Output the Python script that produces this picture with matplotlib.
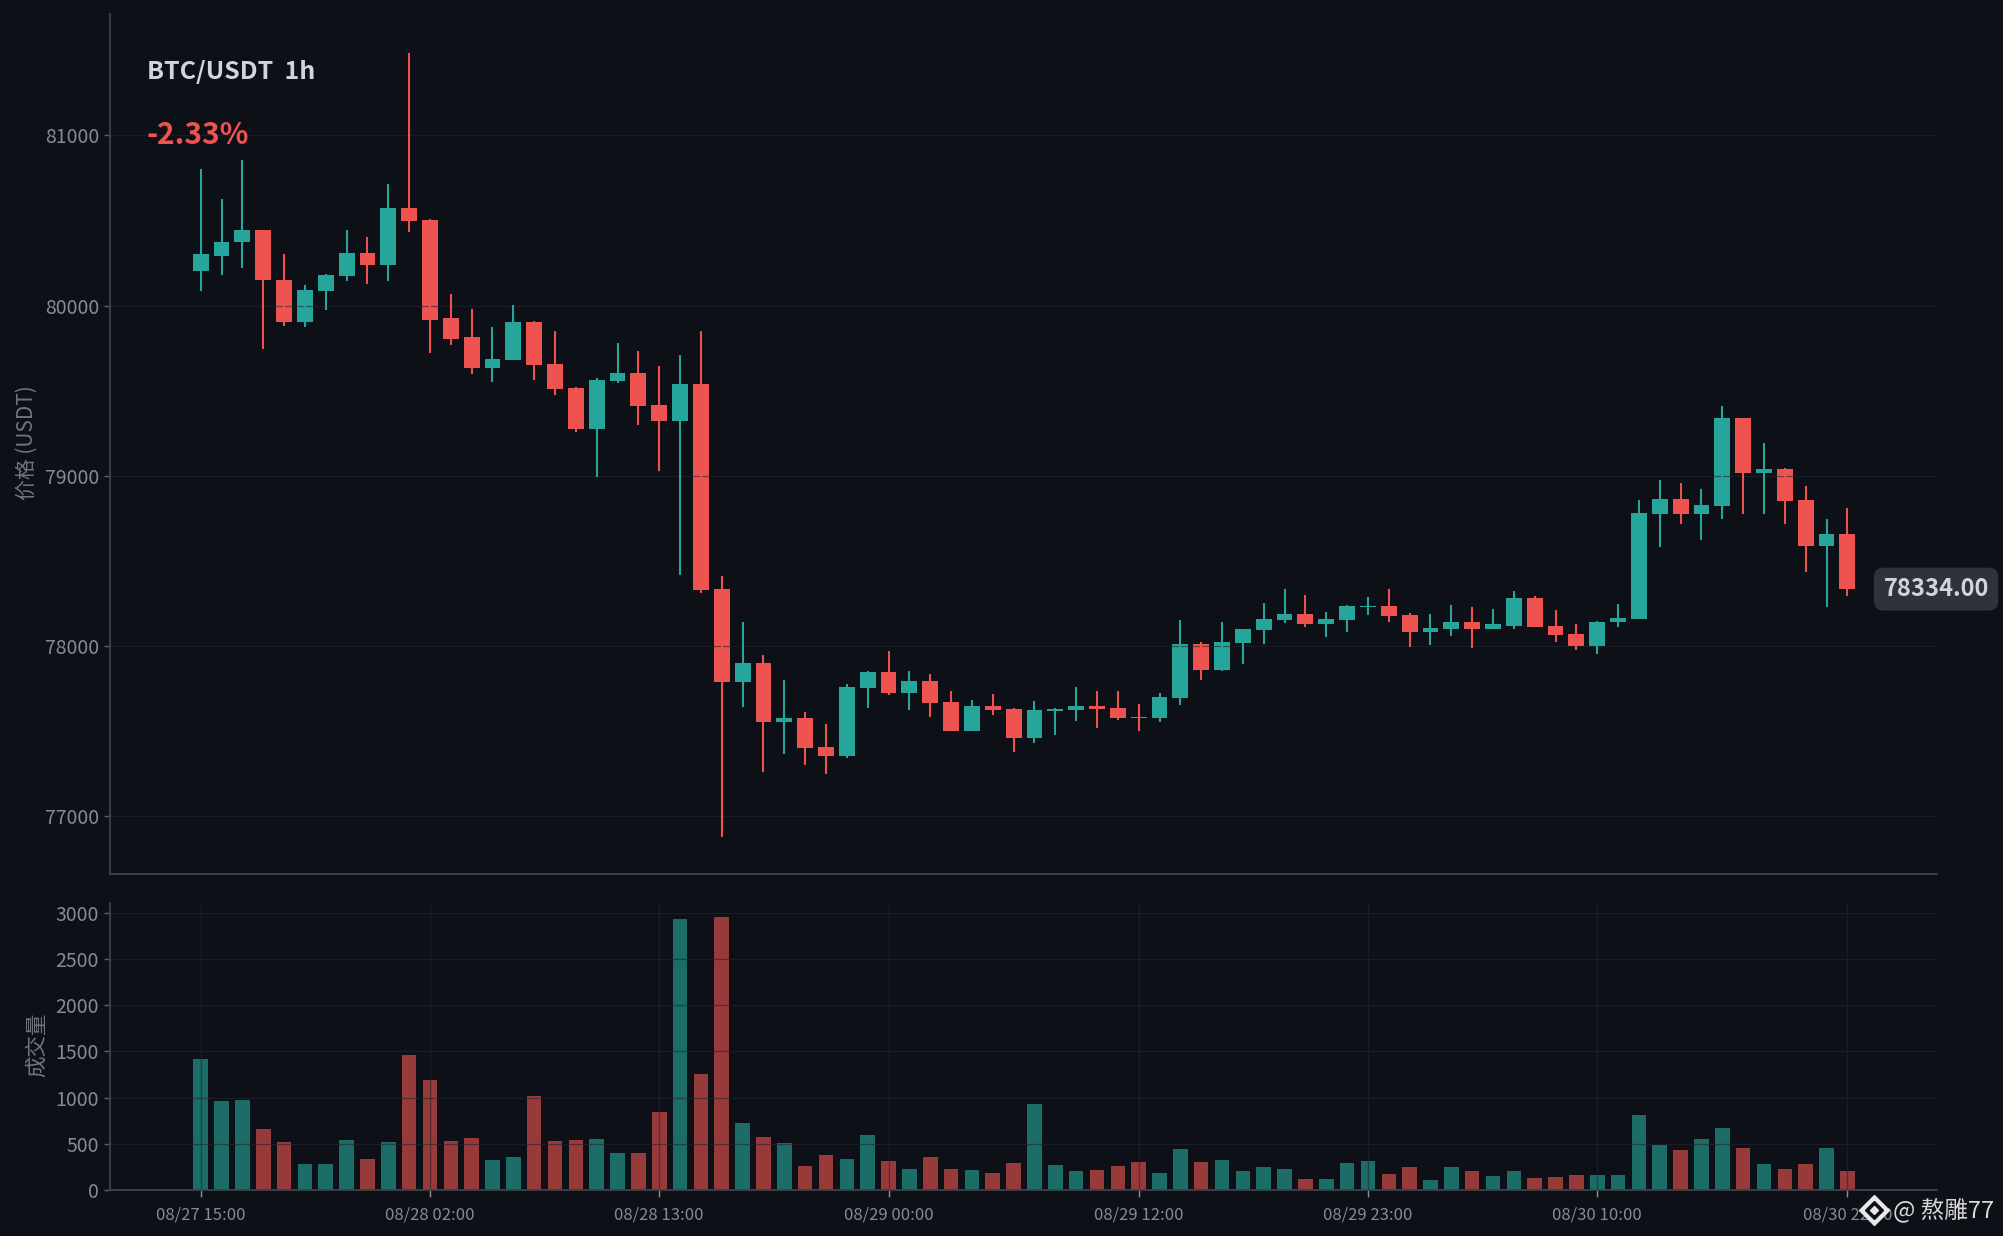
import matplotlib
matplotlib.use('Agg')
import matplotlib.pyplot as plt
from matplotlib.lines import Line2D

plt.rcParams['font.family'] = ['Noto Sans CJK SC', 'DejaVu Sans']

opens = [80202, 80294, 80373, 80441, 80151, 79906, 80088, 80176, 80306, 80241,
         80576, 80500, 79925, 79814, 79635, 79682, 79906, 79659, 79518, 79276,
         79559, 79606, 79418, 79324, 79541, 78332, 77787, 77902, 77552, 77579,
         77409, 77356, 77755, 77844, 77726, 77796, 77673, 77503, 77650, 77632,
         77461, 77620, 77626, 77650, 77638, 77585, 77579, 77697, 78014, 77861,
         78020, 78096, 78155, 78185, 78126, 78155, 78226, 78232, 78179, 78079,
         78102, 78143, 78102, 78120, 78279, 78120, 78073, 78000, 78138, 78161,
         78778, 78861, 78778, 78820, 79337, 79014, 79037, 78855, 78590, 78655]
closes = [80300, 80376, 80441, 80149, 79906, 80092, 80182, 80306, 80241, 80576,
          80494, 79918, 79804, 79635, 79688, 79906, 79653, 79512, 79276, 79565,
          79606, 79412, 79324, 79541, 78326, 77787, 77902, 77552, 77579, 77403,
          77356, 77761, 77844, 77726, 77796, 77667, 77503, 77650, 77626, 77461,
          77626, 77632, 77650, 77632, 77579, 77579, 77702, 78014, 77861, 78026,
          78098, 78161, 78185, 78126, 78161, 78232, 78232, 78173, 78079, 78108,
          78143, 78102, 78126, 78279, 78114, 78067, 78000, 78143, 78167, 78784,
          78861, 78778, 78826, 79337, 79014, 79037, 78849, 78590, 78655, 78334]
highs = [80804, 80627, 80853, 80445, 80300, 80122, 80186, 80445, 80402, 80712,
         81486, 80506, 80069, 79978, 79876, 80006, 79910, 79849, 79523, 79574,
         79778, 79735, 79643, 79712, 79849, 78408, 78138, 77944, 77802, 77614,
         77544, 77777, 77855, 77973, 77855, 77836, 77738, 77685, 77718, 77636,
         77679, 77636, 77761, 77738, 77734, 77659, 77726, 78153, 78022, 78138,
         78102, 78255, 78337, 78302, 78202, 78243, 78290, 78337, 78194, 78185,
         78238, 78226, 78218, 78320, 78296, 78214, 78126, 78149, 78249, 78855,
         78973, 78957, 78922, 79408, 79341, 79192, 79047, 78937, 78743, 78808]
lows = [80088, 80182, 80222, 79745, 79882, 79876, 79971, 80147, 80127, 80147,
        80431, 79720, 79771, 79598, 79553, 79682, 79563, 79475, 79255, 78994,
        79547, 79300, 79025, 78418, 78312, 76879, 77640, 77259, 77365, 77303,
        77250, 77340, 77638, 77714, 77626, 77581, 77503, 77503, 77597, 77379,
        77432, 77479, 77561, 77518, 77567, 77503, 77555, 77655, 77802, 77855,
        77891, 78014, 78132, 78114, 78055, 78079, 78183, 78143, 77991, 78008,
        78061, 77985, 78102, 78102, 78114, 78026, 77977, 77953, 78114, 78161,
        78584, 78718, 78620, 78743, 78773, 78773, 78718, 78432, 78226, 78296]
volumes = [1420, 965, 976, 661, 520, 282, 282, 542, 336, 520,
           1464, 1193, 531, 564, 325, 358, 1019, 531, 542, 553,
           401, 401, 846, 2938, 1258, 2960, 721, 569, 504, 264,
           384, 341, 601, 319, 232, 362, 232, 221, 188, 297,
           928, 275, 210, 221, 264, 308, 188, 449, 308, 330,
           210, 254, 232, 123, 123, 297, 319, 178, 254, 112,
           254, 210, 156, 210, 134, 145, 167, 167, 167, 808,
           482, 438, 547, 667, 460, 286, 232, 286, 460, 210]

tick_pos = [0, 11, 22, 33, 45, 56, 67, 79]
tick_labels = ['08/27 15:00', '08/28 02:00', '08/28 13:00', '08/29 00:00',
               '08/29 12:00', '08/29 23:00', '08/30 10:00', '08/30 22:00']
price_ticks = [77000, 78000, 79000, 80000, 81000]
vol_ticks = [0, 500, 1000, 1500, 2000, 2500, 3000]

BG = '#0d1017'
UP = '#26a69a'
DOWN = '#ef5350'
SPINE = '#3d424c'
TXT = '#868b94'
W, H = 2003, 1236

fig = plt.figure(figsize=(W / 100, H / 100), dpi=100, facecolor=BG)
ax = fig.add_axes([110 / W, (H - 874) / H, 1827 / W, 860 / H], facecolor=BG)
ax2 = fig.add_axes([110 / W, (H - 1190) / H, 1827 / W, 287 / H], facecolor=BG)

xs = list(range(len(opens)))
colors = [UP if c >= o else DOWN for o, c in zip(opens, closes)]

# candles
ax.vlines(xs, lows, highs, colors=colors, linewidth=1.5)
ax.bar(xs, [c - o for o, c in zip(opens, closes)], bottom=opens, width=0.76, color=colors)
ax.grid(axis='y', color='#232730', linewidth=0.9, alpha=0.6)
ax.set_xlim(-4.35, 83.3)
ax.set_ylim(76660, 81713)
ax.set_yticks(price_ticks)
ax.set_xticks([])

# volume
ax2.bar(xs, volumes, width=0.7, color=colors, alpha=0.62)
ax2.grid(True, color='#232730', linewidth=0.9, alpha=0.6)
ax2.set_xlim(-4.35, 83.3)
ax2.set_ylim(0, 3108)
ax2.set_yticks(vol_ticks)
ax2.set_xticks(tick_pos)
ax2.set_xticklabels(tick_labels)

for a in (ax, ax2):
    a.spines['top'].set_visible(False)
    a.spines['right'].set_visible(False)
    a.spines['left'].set_color(SPINE)
    a.spines['bottom'].set_color(SPINE)
    a.spines['left'].set_linewidth(1.3)
    a.spines['bottom'].set_linewidth(1.3)
    a.tick_params(axis='y', colors=TXT, labelsize=14, length=4, width=1, pad=4, color='#5a5f69')
ax2.tick_params(axis='x', colors=TXT, labelsize=12, length=5, width=1, pad=7, color='#8a8f98')

fig.text(27 / W, 1 - 443 / H, '价格 (USDT)', rotation=90, color='#6f747d', fontsize=15,
         ha='center', va='center')
fig.text(37 / W, 1 - 1045 / H, '成交量', rotation=90, color='#6f747d', fontsize=15.5,
         ha='center', va='center')

fig.text(147 / W, 1 - 72 / H, 'BTC/USDT  1h', color='#d1d4dc', fontsize=18, fontweight='bold',
         ha='left', va='center')
fig.text(147 / W, 1 - 135 / H, '-2.33%', color=DOWN, fontsize=21.5, fontweight='bold',
         ha='left', va='center')

# last price badge
ax.text(0.9995, closes[-1], '78334.00', transform=ax.get_yaxis_transform(), color='#d1d4dc',
        fontsize=17, fontweight='bold', ha='center', va='center', clip_on=False, zorder=5,
        bbox=dict(boxstyle='round,pad=0.4,rounding_size=0.4', facecolor='#2e323a', edgecolor='none'))

# watermark
fx, fy = 1874 / W, 1 - 1210 / H
fig.add_artist(Line2D([fx], [fy], marker='D', markersize=15, color='#e8e8e8', linestyle='none',
                      transform=fig.transFigure))
fig.add_artist(Line2D([fx], [fy], marker='D', markersize=9, color=BG, linestyle='none',
                      transform=fig.transFigure))
fig.add_artist(Line2D([fx], [fy], marker='D', markersize=4, color='#e8e8e8', linestyle='none',
                      transform=fig.transFigure))
fig.text(1893 / W, 1 - 1210 / H, '@ 熬雕77', color='#d8d8d8', fontsize=17, ha='left', va='center')

fig.savefig('out.png', dpi=100, facecolor=BG)
